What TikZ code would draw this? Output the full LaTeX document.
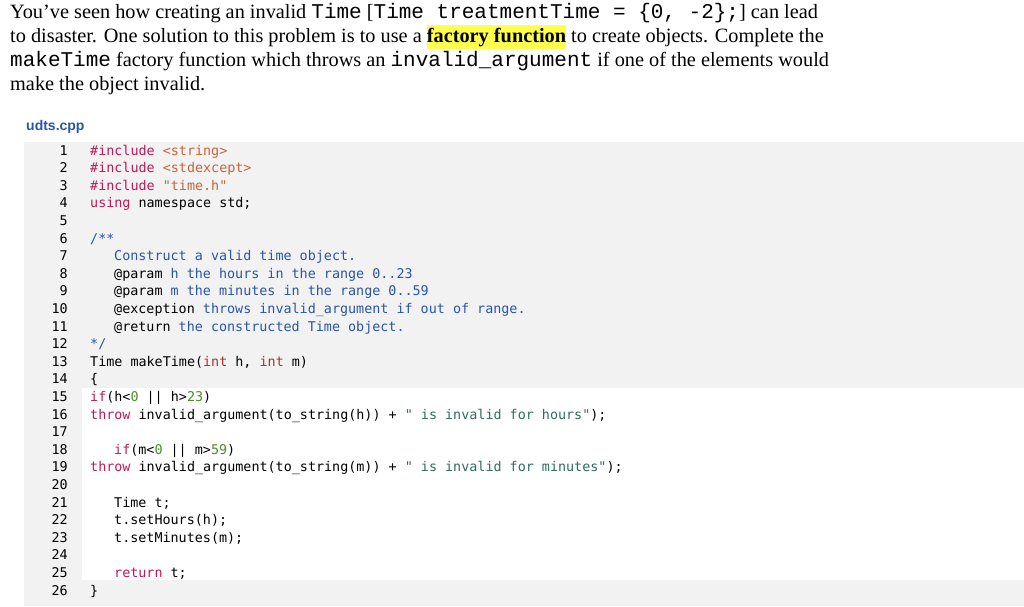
\documentclass[tikz,border=0pt]{standalone}
\usepackage{fontspec}
\setmainfont{Liberation Serif}
\newfontfamily\hdmono{Liberation Mono}
\newfontfamily\cm{DejaVu Sans Mono}
\newfontfamily\hsans{Liberation Sans}
\definecolor{bg}{HTML}{F2F2F2}
\definecolor{kw}{HTML}{C2185B}
\definecolor{inc}{HTML}{C8643A}
\definecolor{cmt}{HTML}{2A56A6}
\definecolor{str}{HTML}{2F6D60}
\definecolor{num}{HTML}{4E8A2E}
\definecolor{ity}{HTML}{A83232}
\definecolor{hl}{HTML}{FFFF4D}
\definecolor{ttl}{HTML}{2A56A6}
\newcommand{\K}[1]{\textcolor{kw}{#1}}
\newcommand{\I}[1]{\textcolor{inc}{#1}}
\newcommand{\C}[1]{\textcolor{cmt}{#1}}
\newcommand{\Sq}[1]{\textcolor{str}{#1}}
\newcommand{\N}[1]{\textcolor{num}{#1}}
\newcommand{\T}[1]{\textcolor{ity}{#1}}
\newcommand{\hm}[1]{{\hdmono\fontsize{21}{24}\selectfont #1}}
\begin{document}
\begin{tikzpicture}[x=1pt,y=-1pt,
  hd/.style={anchor=base west,inner sep=0pt,font=\fontsize{20.3}{24}\selectfont},
  cd/.style={anchor=base west,inner sep=0pt,font=\cm\fontsize{13.4}{15}\selectfont},
  ln/.style={anchor=base east,inner sep=0pt,font=\cm\fontsize{13.4}{15}\selectfont}]
\useasboundingbox (0,0) rectangle (1024,606);
\fill[white] (0,0) rectangle (1024,606);
\fill[bg] (24,142) rectangle (1024,606);
\fill[white] (82,388) rectangle (1024,580);
\node[hd] (h1) at (10,18) {You've seen how creating an invalid \hm{Time} [\hm{Time treatmentTime = \{0, -2\};}] can lead};
\node[hd] (h2) at (10,42) {to disaster. One solution to this problem is to use a \colorbox{hl}{\rule[-4pt]{0pt}{18pt}\hspace{-3pt}\textbf{factory function}\hspace{-3pt}} to create objects. Complete the};
\node[hd] (h3) at (10,66) {\hm{makeTime} factory function which throws an \hm{invalid\_argument} if one of the elements would};
\node[hd] (h4) at (10,90) {make the object invalid.};
\node[anchor=base west,inner sep=0pt,font=\hsans\bfseries\fontsize{14}{16}\selectfont,text=ttl] (ttl) at (26,130) {udts.cpp};
\foreach \n in {1,...,26}{\node[ln] (n\n) at (68,{155+(\n-1)*17.6}) {\n};}
\def\yy#1{{155+(#1-1)*17.6}}
\node[cd] (c1) at (90,\yy{1}) {\K{\#include} \I{<string>}};
\node[cd] (c2) at (90,\yy{2}) {\K{\#include} \I{<stdexcept>}};
\node[cd] (c3) at (90,\yy{3}) {\K{\#include} \I{"time.h"}};
\node[cd] (c4) at (90,\yy{4}) {\K{using} namespace std;};
\node[cd] (c6) at (90,\yy{6}) {\C{/**}};
\node[cd] (c7) at (114,\yy{7}) {\C{Construct a valid time object.}};
\node[cd] (c8) at (114,\yy{8}) {@param \C{h the hours in the range 0..23}};
\node[cd] (c9) at (114,\yy{9}) {@param \C{m the minutes in the range 0..59}};
\node[cd] (c10) at (114,\yy{10}) {@exception \C{throws invalid\_argument if out of range.}};
\node[cd] (c11) at (114,\yy{11}) {@return \C{the constructed Time object.}};
\node[cd] (c12) at (90,\yy{12}) {\C{*/}};
\node[cd] (c13) at (90,\yy{13}) {Time makeTime(\T{int} h, \T{int} m)};
\node[cd] (c14) at (90,\yy{14}) {\{};
\node[cd] (c15) at (90,\yy{15}) {\K{if}(h<\N{0} || h>\N{23})};
\node[cd] (c16) at (90,\yy{16}) {\K{throw} invalid\_argument(to\_string(h)) + \Sq{" is invalid for hours"});};
\node[cd] (c18) at (114,\yy{18}) {\K{if}(m<\N{0} || m>\N{59})};
\node[cd] (c19) at (90,\yy{19}) {\K{throw} invalid\_argument(to\_string(m)) + \Sq{" is invalid for minutes"});};
\node[cd] (c21) at (114,\yy{21}) {Time t;};
\node[cd] (c22) at (114,\yy{22}) {t.setHours(h);};
\node[cd] (c23) at (114,\yy{23}) {t.setMinutes(m);};
\node[cd] (c25) at (114,\yy{25}) {\K{return} t;};
\node[cd] (c26) at (90,\yy{26}) {\}};
\end{tikzpicture}
\end{document}
